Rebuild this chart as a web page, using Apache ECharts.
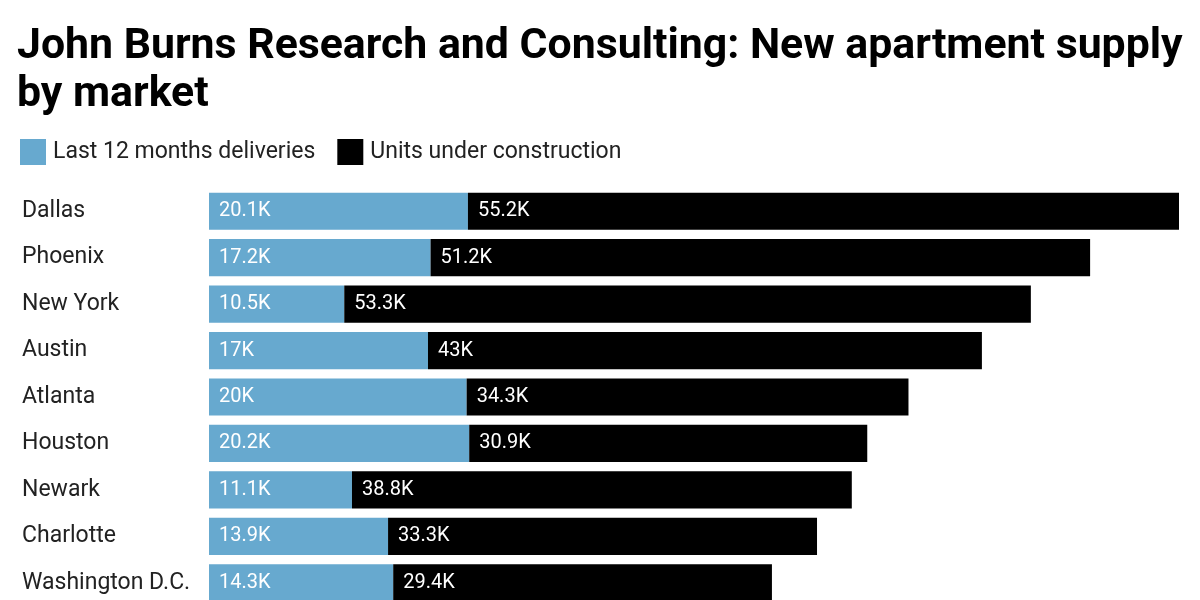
<!DOCTYPE html>
<html>
<head>
<meta charset="utf-8">
<script src="https://cdn.jsdelivr.net/npm/echarts@6/dist/echarts.min.js"></script>
<style>
html,body{margin:0;padding:0;background:#fff;overflow:hidden;}
#chart{width:1200px;height:606px;}
</style>
</head>
<body>
<div id="chart"></div>
<script>
const categories = ["Dallas","Phoenix","New York","Austin","Atlanta","Houston","Newark","Charlotte","Washington D.C."];
const deliveries = [20.1,17.2,10.5,17,20,20.2,11.1,13.9,14.3];
const underConstruction = [55.2,51.2,53.3,43,34.3,30.9,38.8,33.3,29.4];
const seriesNames = ["Last 12 months deliveries","Units under construction"];

const chart = echarts.init(document.getElementById('chart'));
const labelCfg = {
  show: true,
  position: 'insideLeft',
  distance: 10,
  color: '#fff',
  fontFamily: 'Roboto',
  fontSize: 20,
  formatter: p => p.value + 'K'
};
chart.setOption({
  animation: false,
  textStyle: {fontFamily: 'Roboto'},
  title: {
    text: 'John Burns Research and Consulting: New apartment supply\nby market',
    left: 17,
    top: 23,
    padding: 0,
    textStyle: {fontFamily: 'Roboto', fontWeight: 'bold', fontSize: 42.8, lineHeight: 48, color: '#000'}
  },
  legend: {
    left: 20,
    top: 139,
    padding: 0,
    icon: 'rect',
    itemWidth: 26,
    itemHeight: 26,
    itemGap: 22,
    textStyle: {fontFamily: 'Roboto', fontSize: 23, color: '#222', padding: [0,0,0,2]},
    data: seriesNames
  },
  grid: {left: 209, right: 21, top: 188, bottom: 0, containLabel: false},
  xAxis: {type: 'value', min: 0, max: 75.3, show: false},
  yAxis: {
    type: 'category',
    data: categories,
    inverse: true,
    axisLine: {show: false},
    axisTick: {show: false},
    axisLabel: {align: 'left', margin: 187, fontFamily: 'Roboto', fontSize: 23, color: '#222'}
  },
  series: [
    {name: seriesNames[0], type: 'bar', stack: 'a', data: deliveries, barCategoryGap: '20%', itemStyle: {color: '#67a9cf'}, label: labelCfg},
    {name: seriesNames[1], type: 'bar', stack: 'a', data: underConstruction, barCategoryGap: '20%', itemStyle: {color: '#000'}, label: labelCfg}
  ]
});
</script>
</body>
</html>
